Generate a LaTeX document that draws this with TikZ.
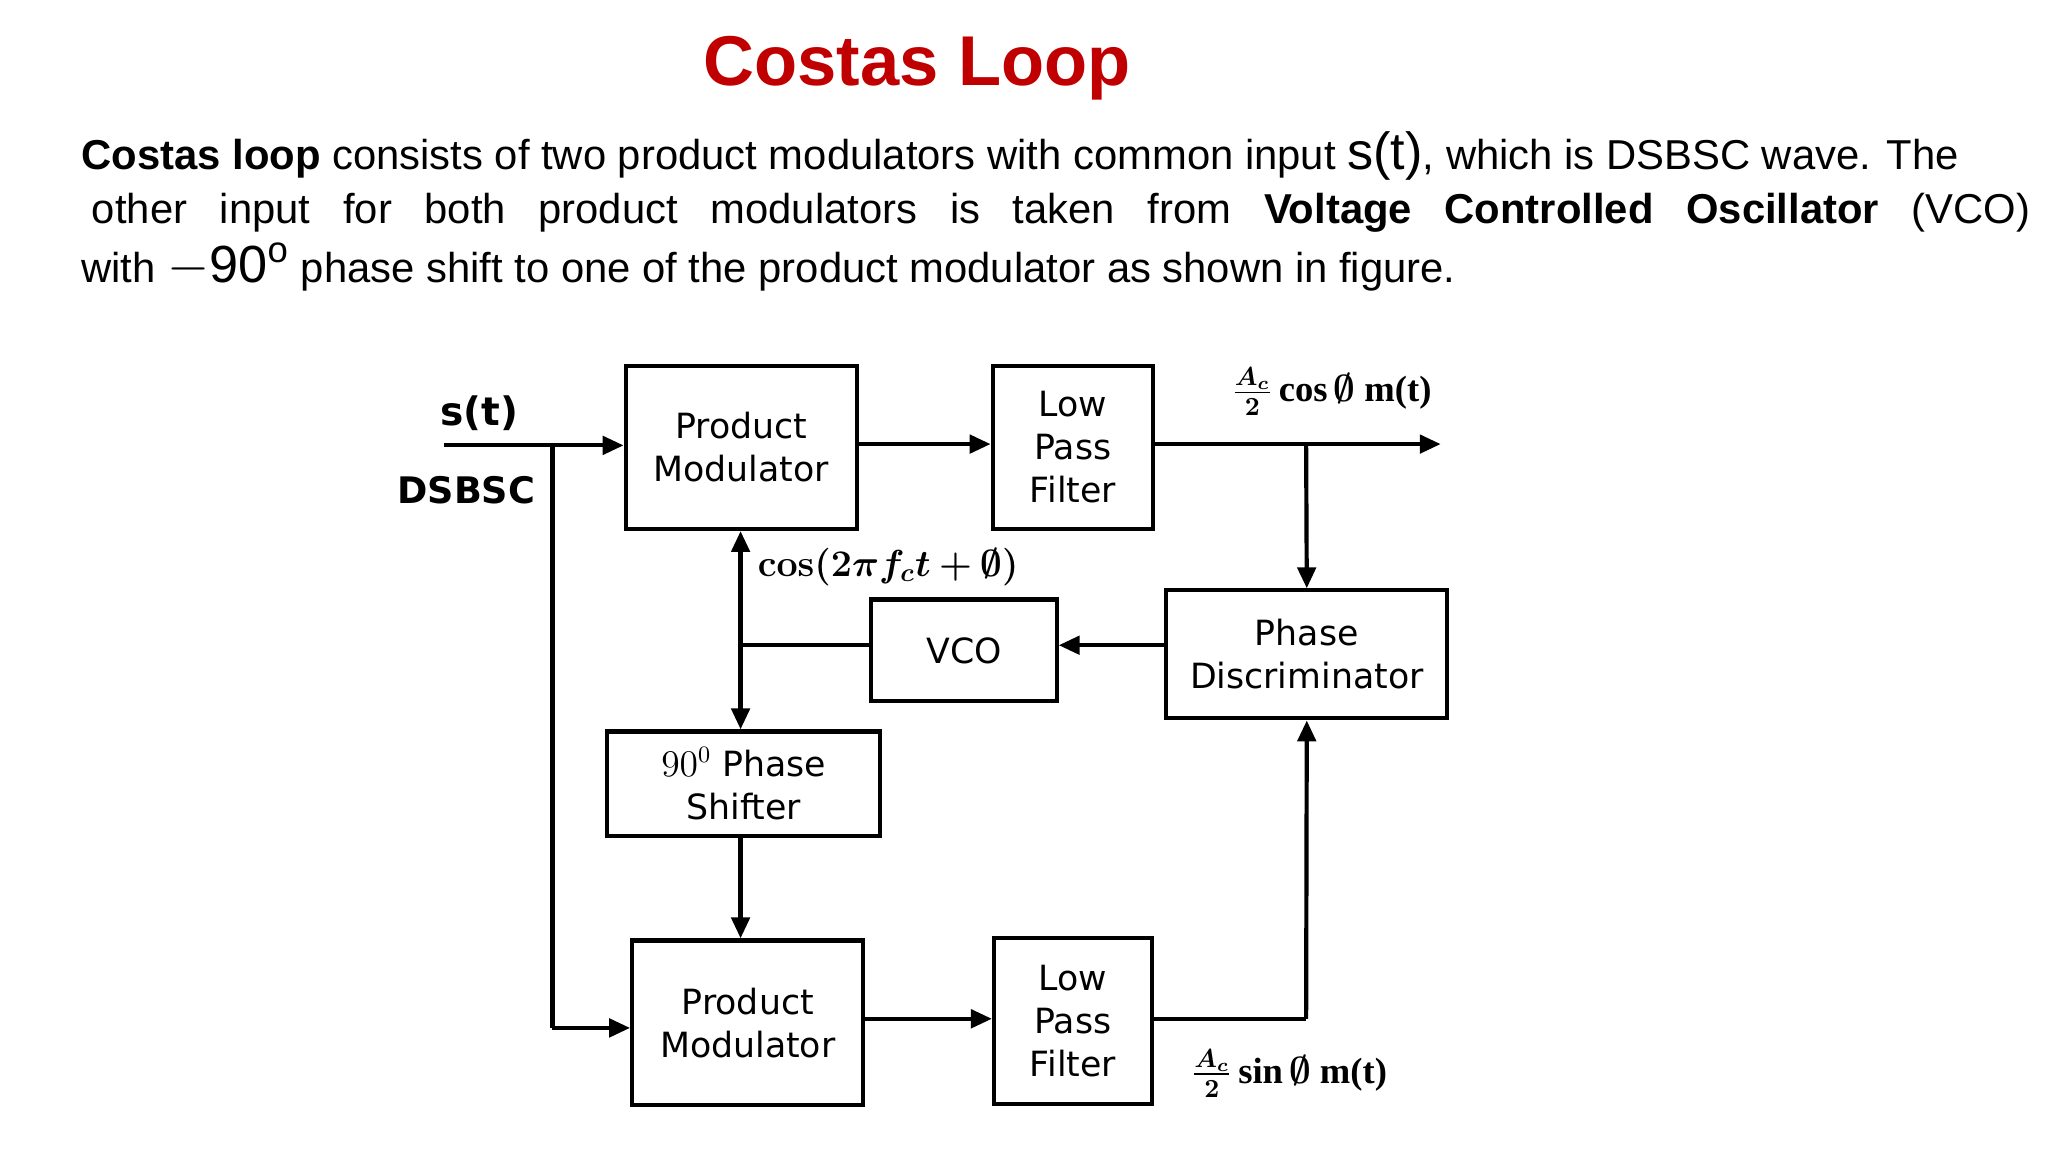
\documentclass[tikz,border=0pt]{standalone}
\usepackage{amsmath,bm}
\usepackage{fontspec}
\setmainfont{Liberation Sans}
\newfontfamily\boxfont{DejaVu Sans}
\newfontfamily\labfont{Liberation Serif}
\usetikzlibrary{arrows.meta}
\definecolor{titlered}{RGB}{192,0,0}
\begin{document}
\begin{tikzpicture}[x=0.5pt,y=-0.5pt,
  blk/.style={draw,line width=1.6pt,align=center,font=\boxfont\fontsize{13.3}{16.5}\selectfont,inner sep=0pt},
  ln/.style={line width=1.6pt},
  arr/.style={ln,-{Triangle[length=8pt,width=7pt]}},
  lab/.style={font=\fontsize{14}{16}\selectfont\bfseries\labfont}]
\useasboundingbox (0,0) rectangle (1568,882);
\node[text=titlered,font=\fontsize{27}{30}\selectfont\bfseries] (title) at (702,52) {Costas Loop};
\node[anchor=base west,inner sep=0pt,font=\fontsize{16}{19}\selectfont] (l1) at (62,130) {\textbf{Costas loop} consists of two product modulators with common input {\fontsize{20}{20}\selectfont s(t)}, which is DSBSC wave. The};
\node[anchor=base west,inner sep=0pt,font=\fontsize{16}{19}\selectfont] (l2) at (70,171) {\makebox[742pt][s]{other input for both product modulators is taken from \textbf{Voltage Controlled Oscillator} (VCO)}};
\node[anchor=base west,inner sep=0pt,font=\fontsize{16}{19}\selectfont] (l3) at (62,216) {with {\fontsize{20}{20}\selectfont $-$90$^{\mathrm{o}}$} phase shift to one of the product modulator as shown in figure.};

\node[blk,minimum width=88.5pt,minimum height=62.5pt] (pm1) at (567.5,342.5) {Product\\Modulator};
\node[blk,minimum width=61.5pt,minimum height=62.5pt] (lp1) at (821.5,342.5) {Low\\Pass\\Filter};
\node[blk,minimum width=107.5pt,minimum height=49pt] (pd) at (1000.5,501) {Phase\\Discriminator};
\node[blk,minimum width=71pt,minimum height=39pt] (vco) at (738,498) {VCO};
\node[blk,minimum width=104.5pt,minimum height=40pt] (ps) at (569.5,600) {$90^0$ Phase\\Shifter};
\node[blk,minimum width=88.5pt,minimum height=63pt] (pm2) at (572.5,783) {Product\\Modulator};
\node[blk,minimum width=60.5pt,minimum height=63.5pt] (lp2) at (821.5,781.5) {Low\\Pass\\Filter};

\coordinate (in) at (340,341);
\coordinate (br) at (423,341);
\coordinate (br2) at (423,787);
\coordinate (out) at (1103,340);
\coordinate (tap) at (1000,340);
\coordinate (v1) at (567,494);
\coordinate (c2) at (1000,780);

\draw[arr] (in) -- (pm1.west|-in);
\draw[ln] (br) -- (br2);
\draw[arr] (br2) -- (pm2.west|-br2);
\draw[arr] (pm1.east|-0,340) -- (lp1.west|-0,340);
\draw[arr] (lp1.east|-out) -- (out);
\draw[arr] (tap) -- (pd.north);
\draw[arr] (pd.west|-v1) -- (vco.east|-v1);
\draw[ln] (vco.west|-v1) -- (v1);
\draw[arr] (v1) -- (v1|-pm1.south);
\draw[arr] (v1) -- (v1|-ps.north);
\draw[arr] (v1|-ps.south) -- (v1|-pm2.north);
\draw[arr] (pm2.east|-c2) -- (lp2.west|-c2);
\draw[ln] (lp2.east|-c2) -- (c2);
\draw[arr] (c2) -- (pd.south);

\node[font=\boxfont\bfseries\fontsize{15}{17}\selectfont] (st) at (367,316) {s(t)};
\node[font=\boxfont\bfseries\fontsize{14}{17}\selectfont] (ds) at (357,375) {DSBSC};
\node[lab] (cl) at (680,434) {$\bm{\mathbf{cos}(2\pi f_c t+\emptyset)}$};
\node[lab,anchor=west] (ol1) at (936,300) {$\bm{\tfrac{\scriptstyle A_c}{\scriptstyle 2}}$\,cos\,$\bm{\emptyset}$ m(t)};
\node[lab,anchor=west] (ol2) at (905,822) {$\bm{\tfrac{\scriptstyle A_c}{\scriptstyle 2}}$\,sin\,$\bm{\emptyset}$ m(t)};
\end{tikzpicture}
\end{document}
